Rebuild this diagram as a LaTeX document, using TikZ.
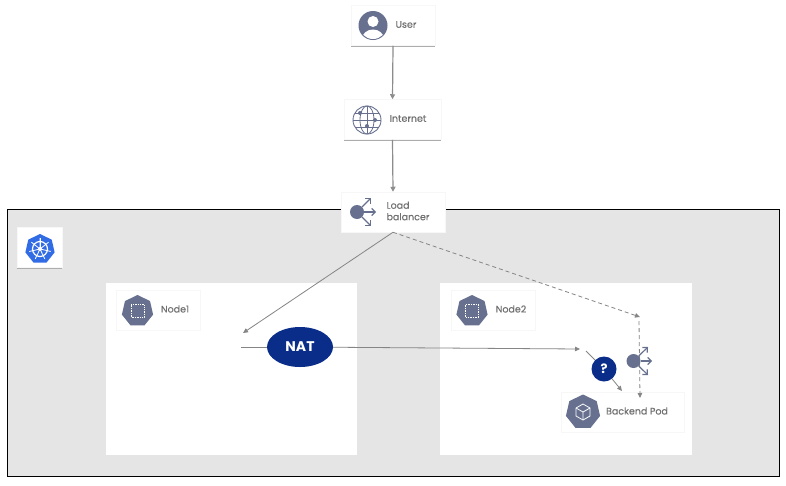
\documentclass[tikz,border=0pt]{standalone}
\usepackage{fontspec}
\setmainfont{Poppins}
\newfontfamily\labelfont[RawFeature={embolden=0.25}]{Poppins}
\usetikzlibrary{arrows.meta,shapes.geometric,shadows}
\definecolor{slate}{HTML}{67718F}
\definecolor{natblue}{HTML}{0A2D8A}
\definecolor{kubeblue}{HTML}{326CE5}
\definecolor{linegray}{HTML}{858585}
\definecolor{labelgray}{HTML}{707070}
\definecolor{clustergray}{HTML}{E5E5E5}
\tikzset{
  card/.style={fill=white, draw=black!3, line width=.5pt, inner sep=0pt, drop shadow={shadow xshift=0pt, shadow yshift=-1pt, fill=black!32, opacity=1}},
  panel/.style={fill=white, inner sep=0pt},
  label/.style={text=labelgray, font=\labelfont\fontsize{9.5}{11.5}\selectfont, align=left},
  hept/.style={regular polygon, regular polygon sides=7, fill=slate, inner sep=0pt},
  solidline/.style={draw=linegray, line width=.8pt},
  arrowline/.style={solidline, -{Triangle[length=5pt,width=4.5pt]}},
  mainline/.style={draw=black!45, line width=1.2pt, -{Triangle[length=5pt,width=5pt]}},
  dashline/.style={arrowline, dashed, dash pattern=on 4pt off 3pt},
  fanline/.style={draw=slate, line width=1.2pt, -{Straight Barb[length=3.5pt,width=7pt]}}
}
\begin{document}
\begin{tikzpicture}[x=1pt,y=-1pt]
    \useasboundingbox (0,0) rectangle (786,485);

    %Cluster
    \draw[fill=clustergray, draw=black, line width=1pt] (7,209) rectangle (779,476);
    \node[panel, minimum width=251pt, minimum height=172pt] (node1panel) at (231.5,369) {};
    \node[panel, minimum width=252pt, minimum height=172pt] (node2panel) at (566,369) {};

    %Cards
    \node[card, minimum width=84pt, minimum height=40pt] (user) at (393,25.5) {};
    \node[card, minimum width=97pt, minimum height=40pt] (internet) at (392.5,119.5) {};
    \node[card, minimum width=104pt, minimum height=40pt] (lb) at (393,212) {};
    \node[card, minimum width=45pt, minimum height=40pt] (kube) at (39.5,247.5) {};
    \node[card, minimum width=84pt, minimum height=40pt] (node1) at (158,310) {};
    \node[card, minimum width=84pt, minimum height=40pt] (node2) at (493,310) {};
    \node[card, minimum width=123pt, minimum height=40pt] (backend) at (622.5,412) {};

    %Labels
    \node[label] (userlabel) at (406,24.5) {User};
    \node[label] (internetlabel) at (408,118.5) {Internet};
    \node[label, anchor=west] (lblabel) at (383,211) {Load\\balancer};
    \node[label] (node1label) at (175,309) {Node1};
    \node[label] (node2label) at (511,309) {Node2};
    \node[label] (backendlabel) at (637,411) {Backend Pod};

    %User icon
    \node[circle, fill=slate, minimum size=29pt, inner sep=0pt] (usericon) at (373,25.5) {};
    \begin{scope}
        \clip (373,25.5) circle (13.5);
        \fill[white] (373,21.5) circle (5.5);
        \fill[white] (373,39) ellipse (11 and 9.5);
    \end{scope}

    %Internet icon
    \node[circle, draw=slate, line width=.9pt, minimum size=28pt, inner sep=0pt] (globe) at (367,120) {};
    \draw[slate, line width=.8pt] (367,106) -- (367,134);
    \draw[slate, line width=.8pt] (353,120) -- (381,120);
    \draw[slate, line width=.8pt] (355,113) -- (379,113);
    \draw[slate, line width=.8pt] (355,127) -- (379,127);
    \draw[slate, line width=.8pt] (367,120) ellipse (7 and 14);
    \fill[slate] (360,113) circle (2);
    \fill[slate] (375,120) circle (2);
    \fill[slate] (367,126) circle (2);

    %Load balancer icon
    \node[circle, fill=slate, minimum size=14pt, inner sep=0pt] (lbicon) at (357,212) {};
    \coordinate (lba) at (371,198);
    \coordinate (lbb) at (376,212);
    \coordinate (lbc) at (371,226);
    \draw[fanline] (lbicon) -- (lba);
    \draw[fanline] (lbicon) -- (lbb);
    \draw[fanline] (lbicon) -- (lbc);

    %Kubernetes icon
    \node[hept, fill=kubeblue, minimum size=30pt] (kubeicon) at (40,249) {};
    \node[circle, draw=white, line width=1.2pt, minimum size=15pt, inner sep=0pt] (wheel) at (40,249) {};
    \foreach \a in {90,141.4,...,450} {
        \draw[white, line width=.8pt] (40,249) -- ++(\a:-11);
    }
    \fill[white] (40,249) circle (2);

    %Node icons
    \node[hept, minimum size=32pt] (node1icon) at (137.5,311) {};
    \draw[white, densely dotted, line width=.7pt] (131,304.5) rectangle (144,317.5);
    \node[hept, minimum size=32pt] (node2icon) at (472,311) {};
    \draw[white, densely dotted, line width=.7pt] (465.5,304.5) rectangle (478.5,317.5);

    %Backend icon
    \node[hept, minimum size=35pt] (backendicon) at (583,412) {};
    \draw[white, line width=.8pt, line join=round] (583,404) -- (590,408) -- (590,416) -- (583,420) -- (576,416) -- (576,408) -- cycle;
    \draw[white, line width=.8pt, line join=round] (576,408) -- (583,412) -- (590,408) (583,412) -- (583,420);

    %Free ends
    \coordinate (natin) at (241,347);
    \coordinate (lbend) at (243,333);
    \coordinate (natend) at (580,349);
    \coordinate (dashend) at (640,317);
    \coordinate (dashtop) at (639,321);
    \coordinate (dashbottom) at (640,398);
    \coordinate (qstart) at (586,351);
    \coordinate (qend) at (622,391);

    %Connectors
    \draw[mainline] (user.south) -- (internet.north);
    \draw[mainline] (internet.south) -- (lb.north);
    \draw[arrowline] (lb.south) -- (lbend);
    \draw[dashline] (lb.south) -- (dashend);
    \draw[dashline] (dashtop) -- (dashbottom);

    %NAT
    \node[ellipse, fill=natblue, text=white, minimum width=66pt, minimum height=40pt, inner sep=0pt, font=\fontsize{14}{16}\selectfont\bfseries] (nat) at (300,347) {NAT};
    \draw[solidline] (natin) -- (nat);
    \draw[arrowline] (nat) -- (natend);

    %Question mark
    \node[circle, fill=natblue, text=white, minimum size=25pt, inner sep=0pt, font=\fontsize{13}{14}\selectfont\bfseries] (q) at (604,369) {?};
    \draw[solidline] (qstart) -- (q);
    \draw[arrowline] (q) -- (qend);

    %Second fan
    \node[circle, fill=slate, minimum size=14pt, inner sep=0pt] (fanicon) at (633.5,361) {};
    \coordinate (fana) at (648,347);
    \coordinate (fanb) at (652,361);
    \coordinate (fanc) at (648,375);
    \draw[fanline] (fanicon) -- (fana);
    \draw[fanline] (fanicon) -- (fanb);
    \draw[fanline] (fanicon) -- (fanc);
\end{tikzpicture}
\end{document}
